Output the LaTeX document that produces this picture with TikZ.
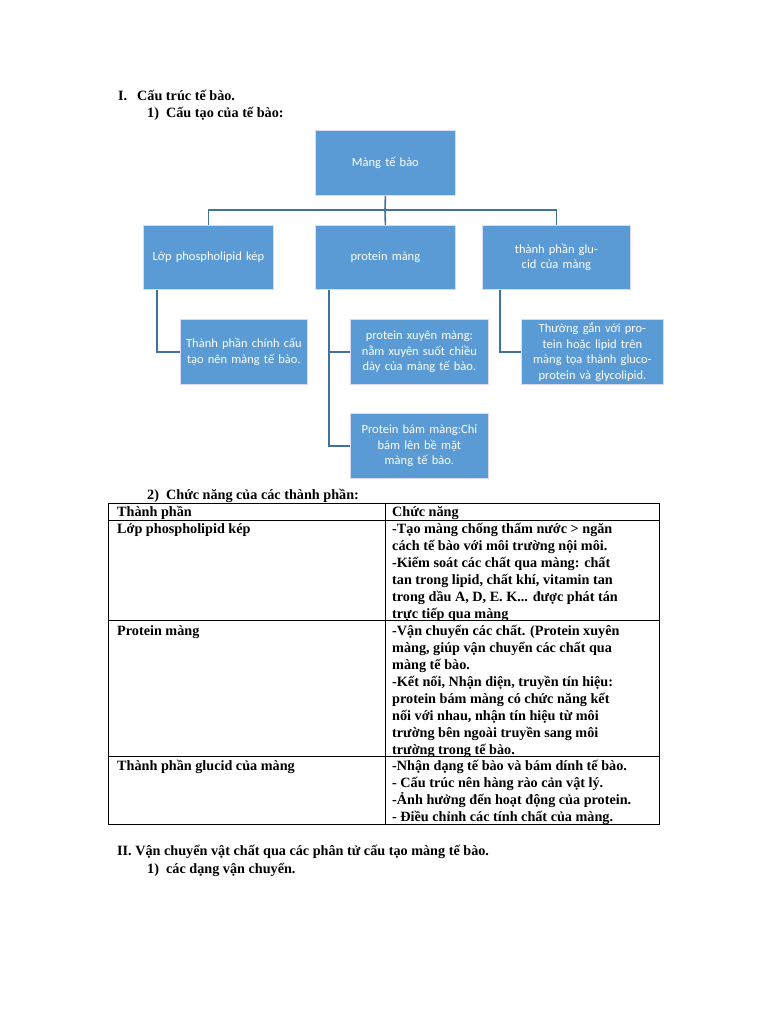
\documentclass[tikz,border=0pt]{standalone}
\usepackage{fontspec}
\setmainfont{Liberation Serif}
\newfontfamily\boxfont{Carlito}
\begin{document}
\begin{tikzpicture}[x=1pt,y=-1pt,
  bx/.style={draw=white!85!blue,line width=0.8pt,fill={rgb,255:red,91;green,155;blue,213},text=white,
    font=\boxfont\fontsize{12.5}{15.5}\selectfont,align=center,inner sep=2pt,anchor=north west},
  cn/.style={draw={rgb,255:red,65;green,113;blue,156},line width=1.6pt},
  tx/.style={anchor=base west,inner sep=0pt,font=\bfseries\fontsize{14.2}{17}\selectfont},
  tl/.style={draw=black,line width=0.9pt}]
\useasboundingbox (0,0) rectangle (768,1024);
\fill[white] (0,0) rectangle (768,1024);
% headings
\node[tx] (h1a) at (118,101) {I.};
\node[tx] (h1b) at (137,101) {Cấu trúc tế bào.};
\node[tx] (h2) at (147,118) {1)\ \ Cấu tạo của tế bào:};
% boxes
\node[bx,minimum width=140,minimum height=65,text width=134] (top) at (315,130) {Màng tế bào};
\node[bx,minimum width=130,minimum height=64,text width=126] (l) at (143,225) {Lớp phospholipid kép};
\node[bx,minimum width=140,minimum height=64,text width=134] (m) at (315,225) {protein màng};
\node[bx,minimum width=148,minimum height=64,text width=140] (r) at (482,225) {thành phần glucid của màng};
\node[bx,minimum width=127,minimum height=65,text width=122] (lc) at (180,319) {Thành phần chính cấu tạo nên màng tế bào.};
\node[bx,minimum width=138,minimum height=65,text width=134] (mc1) at (350,319) {protein xuyên màng: nằm xuyên suốt chiều dày của màng tế bào.};
\node[bx,minimum width=138,minimum height=65,text width=134] (mc2) at (350,413) {Protein bám màng:Chỉ bám lên bề mặt màng tế bào.};
\node[bx,minimum width=140,minimum height=65,text width=138] (rc) at (521,319) {Thường gắn với protein hoặc lipid trên màng tọa thành glucoprotein và glycolipid.};
% connectors
\coordinate (j) at (385,210);
\draw[cn] (top.south) -- (j);
\draw[cn] (l.north) |- (j) -| (r.north);
\draw[cn] (j) -- (m.north);
\draw[cn] (l.south west) ++(14,0) coordinate (lt) |- (lc.west);
\draw[cn] (m.south west) ++(14,0) coordinate (mt) |- (mc1.west);
\draw[cn] (mt) |- (mc2.west);
\draw[cn] (r.south west) ++(18,0) coordinate (rt) |- (rc.west);
% section 2 heading
\node[tx] (h3) at (147,499) {2)\ \ Chức năng của các thành phần:};
% table
\draw[tl] (108,503) rectangle (659,824);
\draw[tl] (385,503) -- (385,824);
\draw[tl] (108,520) -- (659,520);
\draw[tl] (108,620) -- (659,620);
\draw[tl] (108,756) -- (659,756);
\node[tx] (c0) at (117,516) {Thành phần};
\node[tx] (d0) at (392,516) {Chức năng};
\node[tx] (c1) at (117,533) {Lớp phospholipid kép};
\node[tx] (c2) at (117,635) {Protein màng};
\node[tx] (c3) at (117,770) {Thành phần glucid của màng};
\node[tx] (d1) at (392,533) {-Tạo màng chống thấm nước > ngăn};
\node[tx] (d2) at (392,550) {cách tế bào với môi trường nội môi.};
\node[tx] (d3) at (392,567) {-Kiểm soát các chất qua màng: chất};
\node[tx] (d4) at (392,584) {tan trong lipid, chất khí, vitamin tan};
\node[tx] (d5) at (392,601) {trong dầu A, D, E. K... được phát tán};
\node[tx] (d6) at (392,618) {trực tiếp qua màng};
\node[tx] (d7) at (392,635) {-Vận chuyển các chất. (Protein xuyên};
\node[tx] (d8) at (392,652) {màng, giúp vận chuyển các chất qua};
\node[tx] (d9) at (392,669) {màng tế bào.};
\node[tx] (d10) at (392,686) {-Kết nối, Nhận diện, truyền tín hiệu:};
\node[tx] (d11) at (392,703) {protein bám màng có chức năng kết};
\node[tx] (d12) at (392,720) {nối với nhau, nhận tín hiệu từ môi};
\node[tx] (d13) at (392,737) {trường bên ngoài truyền sang môi};
\node[tx] (d14) at (392,754) {trường trong tế bào.};
\node[tx] (d15) at (392,770) {-Nhận dạng tế bào và bám dính tế bào.};
\node[tx] (d16) at (392,787) {- Cấu trúc nên hàng rào cản vật lý.};
\node[tx] (d17) at (392,804) {-Ảnh hưởng đến hoạt động của protein.};
\node[tx] (d18) at (392,821) {- Điều chỉnh các tính chất của màng.};
% section II
\node[tx] (h4) at (117,855) {II. Vận chuyển vật chất qua các phân tử cấu tạo màng tế bào.};
\node[tx] (h5) at (147,873) {1)\ \ các dạng vận chuyển.};
\end{tikzpicture}
\end{document}
